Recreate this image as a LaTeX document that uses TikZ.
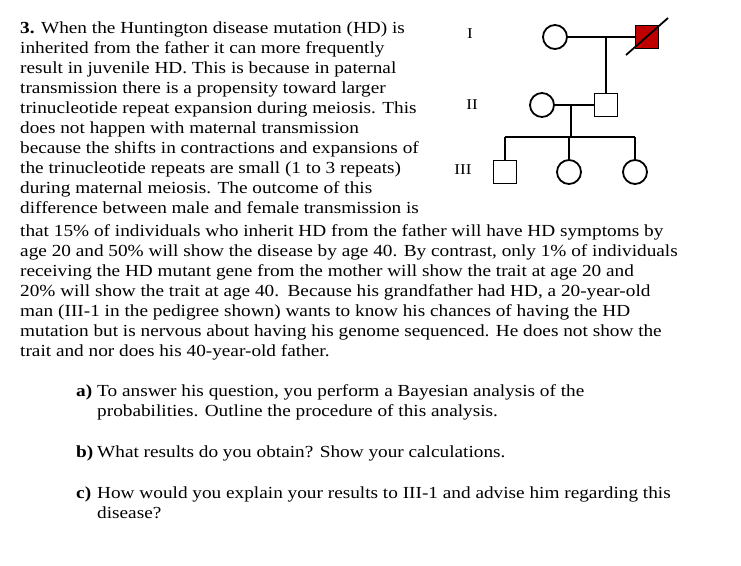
\documentclass[tikz,border=0pt]{standalone}
\usepackage{fontspec}
\setmainfont[FakeStretch=1.14]{Liberation Serif}
\begin{document}
\begin{tikzpicture}[x=1pt,y=-1pt,
  ln/.style={anchor=base west,inner sep=0pt,font=\fontsize{16.9}{18}\selectfont},
  gl/.style={anchor=base,inner sep=0pt,font=\fontsize{15}{16}\selectfont},
  fem/.style={circle,draw,line width=1.8pt,minimum size=24pt,inner sep=0pt},
  mal/.style={rectangle,draw,line width=1.8pt,minimum size=23pt,inner sep=0pt},
  pl/.style={line width=1.8pt}]
\useasboundingbox (0,0) rectangle (741,565);
% pedigree
\node[gl] (g1) at (470,38) {I};
\node[gl] (g2) at (472,109) {II};
\node[gl] (g3) at (463,174) {III};
\node[fem] (a1) at (555,37) {};
\node[mal,fill=red!75!black] (a2) at (647,37) {};
\draw[pl] (a1) -- (a2);
\coordinate (d1) at (606,37);
\node[mal] (b2) at (606,105) {};
\node[fem] (b1) at (542,105) {};
\draw[pl] (d1) -- (b2.north);
\draw[pl] (b1) -- (b2);
\coordinate (d2) at (571,105);
\coordinate (s) at (571,137);
\node[mal] (c1) at (505,172) {};
\node[fem] (c2) at (569,172) {};
\node[fem] (c3) at (635,172) {};
\coordinate (sl) at (505,137);
\coordinate (sr) at (635,137);
\draw[pl] (d2) -- (s);
\draw[pl] (sl) -- (sr);
\draw[pl] (sl) -- (c1.north);
\draw[pl] (569,137) -- (c2.north);
\draw[pl] (sr) -- (c3.north);
\coordinate (x1) at (626,55);
\coordinate (x2) at (668,18);
\draw[pl] (x1) -- (x2);
% text
\node[ln] (t1) at (20,33) {\textbf{3.} When the Huntington disease mutation (HD) is};
\node[ln] (t2) at (20,53) {inherited from the father it can more frequently};
\node[ln] (t3) at (20,73) {result in juvenile HD. This is because in paternal};
\node[ln] (t4) at (20,93) {transmission there is a propensity toward larger};
\node[ln] (t5) at (20,113) {trinucleotide repeat expansion during meiosis. This};
\node[ln] (t6) at (20,133) {does not happen with maternal transmission};
\node[ln] (t7) at (20,153) {because the shifts in contractions and expansions of};
\node[ln] (t8) at (20,173) {the trinucleotide repeats are small (1 to 3 repeats)};
\node[ln] (t9) at (20,193) {during maternal meiosis. The outcome of this};
\node[ln] (t10) at (20,213) {difference between male and female transmission is};
\node[ln] (t11) at (20,236) {that 15\% of individuals who inherit HD from the father will have HD symptoms by};
\node[ln] (t12) at (20,256) {age 20 and 50\% will show the disease by age 40. By contrast, only 1\% of individuals};
\node[ln] (t13) at (20,276) {receiving the HD mutant gene from the mother will show the trait at age 20 and};
\node[ln] (t14) at (20,296) {20\% will show the trait at age 40.\enspace Because his grandfather had HD, a 20-year-old};
\node[ln] (t15) at (20,316) {man (III-1 in the pedigree shown) wants to know his chances of having the HD};
\node[ln] (t16) at (20,336) {mutation but is nervous about having his genome sequenced. He does not show the};
\node[ln] (t17) at (20,356) {trait and nor does his 40-year-old father.};
\node[ln] (qa) at (76,396) {\textbf{a)}};
\node[ln] (qa1) at (97,396) {To answer his question, you perform a Bayesian analysis of the};
\node[ln] (qa2) at (97,416) {probabilities. Outline the procedure of this analysis.};
\node[ln] (qb) at (76,457) {\textbf{b)}};
\node[ln] (qb1) at (97,457) {What results do you obtain? Show your calculations.};
\node[ln] (qc) at (76,498) {\textbf{c)}};
\node[ln] (qc1) at (97,498) {How would you explain your results to III-1 and advise him regarding this};
\node[ln] (qc2) at (97,518) {disease?};
\end{tikzpicture}
\end{document}
